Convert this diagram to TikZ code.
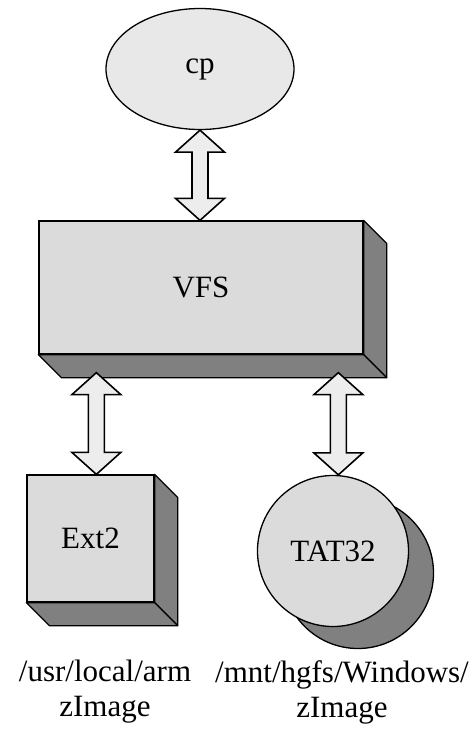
\documentclass[tikz,border=0pt]{standalone}
\usepackage{fontspec}
\setmainfont{Liberation Serif}
\usetikzlibrary{positioning,shapes.geometric,calc}

% hollow two-headed arrow, drawn straight down from #1 to #2
\newcommand{\fatarrow}[2]{%
  \draw[fat] (#1) -- ++(24.5,-22) -- ++(-16.5,0) -- ($(#2)+(8,22)$) -- ++(16.5,0)
    -- (#2) -- ++(-24.5,22) -- ++(16.5,0) -- ($(#1)+(-8,-22)$) -- ++(-16.5,0) -- cycle;}

\begin{document}
\begin{tikzpicture}[
  x=1pt, y=1pt,
  face/.style={draw, line width=1.3pt, fill=black!14, inner sep=0pt, font=\fontsize{31}{36}\selectfont},
  side/.style={draw, line width=1.3pt, fill=black!50, line join=round},
  fat/.style={draw, line width=1.6pt, fill=black!7},
  pathtext/.style={align=center, inner sep=0pt, font=\fontsize{31}{35}\selectfont}
]
  \useasboundingbox (0,0) rectangle (474,-740);

  \node[face, ellipse, fill=black!9, minimum width=188pt, minimum height=121pt] (cp) at (200,-69) {cp};

  \node[face, minimum width=324pt, minimum height=133pt] (vfs) at (201,-287.5) {VFS};
  \draw[side] (vfs.north east) -- ++(23,-23) -- ([shift={(23,-23)}]vfs.south east) -- (vfs.south east) -- cycle;
  \draw[side] (vfs.south west) -- ++(23,-23) -- ([shift={(23,-23)}]vfs.south east) -- (vfs.south east) -- cycle;

  \node[face, minimum size=127pt] (ext2) at (90.5,-538.5) {Ext2};
  \draw[side] (ext2.north east) -- ++(23,-23) -- ([shift={(23,-23)}]ext2.south east) -- (ext2.south east) -- cycle;
  \draw[side] (ext2.south west) -- ++(23,-23) -- ([shift={(23,-23)}]ext2.south east) -- (ext2.south east) -- cycle;

  \node[side, circle, minimum size=151pt] (tatback) at (358,-573) {};
  \node[face, circle, minimum size=151pt] (tat) at (333,-551) {TAT32};

  \node[pathtext] (armpath) at (105,-692) {/usr/local/arm\\zImage};
  \node[pathtext] (winpath) at (342,-692) {/mnt/hgfs/Windows/\\zImage};

  \coordinate (vl) at ($(vfs.south west)+(58,-18)$);
  \coordinate (vr) at ($(vfs.south west)+(300,-18)$);

  \fatarrow{cp.south}{cp.south |- vfs.north}
  \fatarrow{vl}{vl |- ext2.north}
  \fatarrow{vr}{vr |- tat.north}
\end{tikzpicture}
\end{document}
